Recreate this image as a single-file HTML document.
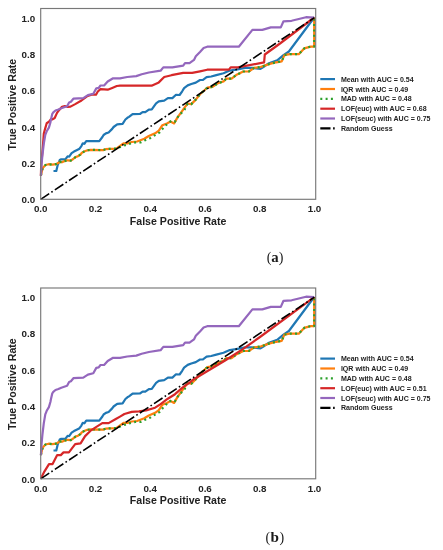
<!DOCTYPE html>
<html><head><meta charset="utf-8"><title>ROC curves</title>
<style>
html,body{margin:0;padding:0;background:#fff;}
svg{display:block;}
</style></head>
<body>
<svg width="443" height="550" viewBox="0 0 443 550">
<rect width="443" height="550" fill="#fff"/>
<g fill="none" stroke-width="2.2" stroke-linejoin="round" stroke-linecap="butt">
<polyline points="53.5,171.0 56.3,171.0 57.7,165.0 59.7,160.1 61.3,159.3 65.3,159.4 67.6,156.3 69.2,156.7 71.6,153.2 74.0,151.6 77.1,150.0 79.5,148.7 81.4,146.1 82.8,143.3 84.4,143.8 86.2,141.2 99.3,141.2 102.4,137.0 103.6,135.0 105.9,133.4 108.6,132.5 112.2,128.9 113.6,127.0 117.2,124.3 122.6,123.9 125.4,119.5 127.4,117.8 129.0,116.9 132.6,114.1 139.9,114.0 142.6,112.2 145.3,112.2 148.9,109.7 151.8,109.3 156.1,103.3 158.8,101.4 164.2,100.6 167.9,98.2 172.4,98.1 176.0,94.8 179.6,95.0 182.2,91.3 184.1,88.1 187.7,85.4 191.3,84.0 195.8,82.6 200.0,80.0 203.0,79.8 206.6,77.2 211.2,76.5 216.3,75.1 223.5,73.3 229.8,70.6 236.1,69.7 245.1,67.9 252.4,67.9 260.5,68.8 263.4,67.0 269.0,63.2 277.2,60.3 283.5,55.1 288.9,51.5 314.2,17.5" stroke="#1f77b4"/>
<polyline points="40.9,175.4 42.2,169.8 43.2,167.4 45.5,165.0 48.7,164.2 52.6,164.7 55.8,164.2 58.2,163.1 59.7,161.9 62.1,162.2 64.5,161.1 67.6,160.3 70.8,160.6 73.2,159.0 75.5,157.1 77.9,156.3 80.3,154.7 81.9,152.7 84.2,151.6 87.4,150.3 90.6,149.9 103.2,150.1 105.6,149.2 110.0,148.8 116.3,148.6 123.5,143.3 128.1,143.3 131.7,142.0 137.1,141.5 144.3,138.8 148.8,136.0 155.1,133.3 158.8,130.6 162.4,125.2 166.9,123.4 170.5,121.6 174.1,123.4 177.7,117.1 180.4,113.5 184.9,107.2 187.7,103.5 191.3,104.1 195.8,99.6 200.0,94.2 207.2,87.7 212.6,86.8 218.1,83.2 223.5,81.4 226.2,78.7 231.6,78.7 236.1,75.1 243.3,71.5 248.8,71.5 254.2,67.9 260.5,67.0 269.0,64.1 276.3,62.3 281.7,61.4 284.4,55.1 289.8,54.2 298.8,54.2 304.2,48.4 310.6,46.6 314.2,46.6 314.2,17.5" stroke="#ff7f0e"/>
<polyline points="40.9,175.4 42.2,169.8 43.2,167.4 45.5,165.0 48.7,164.2 52.6,164.7 55.8,164.2 58.2,163.1 59.7,161.9 62.1,162.2 64.5,161.1 67.6,160.3 70.8,160.6 73.2,159.0 75.5,157.1 77.9,156.3 80.3,154.7 81.9,152.7 84.2,151.6 87.4,150.3 90.6,149.9 103.2,150.1 105.6,149.2 110.0,148.8 116.3,148.6 118.1,147.8 125.3,145.1 129.9,143.6 135.3,142.4 140.7,142.4 145.2,140.2 150.6,137.9 155.1,135.1 159.7,132.4 163.3,127.9 167.8,123.4 171.4,120.7 175.0,121.6 179.5,114.4 184.0,110.8 185.8,107.2 187.7,103.5 191.3,104.1 195.8,99.6 200.0,94.2 207.2,87.7 212.6,86.8 218.1,83.2 223.5,81.4 226.2,78.7 231.6,78.7 236.1,75.1 243.3,71.5 248.8,71.5 254.2,67.9 260.5,67.0 269.0,64.1 276.3,62.3 281.7,61.4 284.4,55.1 289.8,54.2 298.8,54.2 304.2,48.4 310.6,46.6 314.2,46.6 314.2,17.5" stroke="#2ca02c" stroke-dasharray="2 3.3"/>
<polyline points="40.9,175.8 41.2,164.0 42.1,155.3 43.1,143.6 43.8,133.5 45.0,129.1 46.7,123.2 48.9,121.8 51.1,118.9 52.5,119.4 54.7,118.0 56.9,113.1 58.4,110.9 62.0,106.8 64.9,106.0 67.8,107.0 70.5,106.6 75.2,104.1 81.5,100.5 87.0,96.3 91.5,94.7 96.0,94.7 97.8,91.5 100.5,89.1 107.7,89.7 112.2,87.9 116.8,86.0 120.0,85.7 151.6,85.7 158.8,82.4 164.2,77.0 171.5,75.2 183.2,72.9 192.2,72.9 200.0,71.3 207.2,69.7 228.9,69.7 230.7,67.3 237.9,67.3 264.1,62.4 264.8,54.5 280.0,43.5 314.2,17.5" stroke="#d62728"/>
<polyline points="40.9,175.8 41.6,164.0 42.4,155.3 43.8,143.6 45.3,134.9 46.7,131.3 48.9,127.6 50.4,122.5 51.1,118.9 52.3,113.8 53.3,112.4 55.5,110.5 58.4,109.5 61.3,108.2 64.9,107.0 67.1,106.3 69.1,102.5 70.9,101.8 73.4,98.7 83.3,98.1 87.9,95.1 93.3,93.8 96.3,88.4 98.7,87.9 100.5,85.5 104.1,85.5 107.7,81.5 113.1,78.3 120.0,78.3 127.2,77.0 136.3,76.1 141.7,74.3 148.9,72.5 160.6,70.7 163.3,67.4 172.4,67.4 183.2,65.6 185.0,63.1 189.5,63.1 194.0,59.9 195.8,56.3 200.0,52.0 203.6,48.0 207.2,46.7 238.8,46.7 252.4,29.9 262.3,29.9 270.8,27.4 280.8,27.4 283.5,21.3 291.6,20.8 298.8,19.0 306.0,17.2 314.2,17.5" stroke="#9467bd"/>
<polyline points="40.7,199.3 314.4,17.7" stroke="#000" stroke-width="1.6" stroke-dasharray="10.2 2.6 1.6 2.6"/>
</g>
<rect x="40.7" y="8.5" width="275.0" height="190.8" fill="none" stroke="#787878" stroke-width="1.15"/>
<g font-family="Liberation Sans, Arial, sans-serif" font-weight="bold" font-size="9.8" fill="#222">
<text x="40.7" y="212.0" text-anchor="middle">0.0</text>
<text x="35.1" y="203.1" text-anchor="end">0.0</text>
<text x="95.5" y="212.0" text-anchor="middle">0.2</text>
<text x="35.1" y="166.8" text-anchor="end">0.2</text>
<text x="150.2" y="212.0" text-anchor="middle">0.4</text>
<text x="35.1" y="130.5" text-anchor="end">0.4</text>
<text x="205.0" y="212.0" text-anchor="middle">0.6</text>
<text x="35.1" y="94.2" text-anchor="end">0.6</text>
<text x="259.7" y="212.0" text-anchor="middle">0.8</text>
<text x="35.1" y="57.9" text-anchor="end">0.8</text>
<text x="314.5" y="212.0" text-anchor="middle">1.0</text>
<text x="35.1" y="21.6" text-anchor="end">1.0</text>
<text x="178.1" y="224.7" text-anchor="middle" font-size="10.6">False Positive Rate</text>
<text transform="translate(15.9,104.7) rotate(-90)" text-anchor="middle" font-size="10.6">True Positive Rate</text>
</g>
<g font-family="Liberation Sans, Arial, sans-serif" font-weight="bold" font-size="7.05" fill="#222">
<line x1="320.3" x2="335" y1="79.1" y2="79.1" stroke="#1f77b4" stroke-width="2.2"/>
<text x="340.9" y="81.6">Mean with AUC = 0.54</text>
<line x1="320.3" x2="335" y1="89.0" y2="89.0" stroke="#ff7f0e" stroke-width="2.2"/>
<text x="340.9" y="91.5">IQR with AUC = 0.49</text>
<line x1="320.3" x2="335" y1="98.8" y2="98.8" stroke="#2ca02c" stroke-width="2.2" stroke-dasharray="2 3.3"/>
<text x="340.9" y="101.3">MAD with AUC = 0.48</text>
<line x1="320.3" x2="335" y1="108.7" y2="108.7" stroke="#d62728" stroke-width="2.2"/>
<text x="340.9" y="111.2">LOF(euc) with AUC = 0.68</text>
<line x1="320.3" x2="335" y1="118.5" y2="118.5" stroke="#9467bd" stroke-width="2.2"/>
<text x="340.9" y="121.0">LOF(seuc) with AUC = 0.75</text>
<line x1="320.3" x2="335" y1="128.4" y2="128.4" stroke="#000" stroke-width="2.2" stroke-dasharray="10.2 2.6 1.6 2.6"/>
<text x="340.9" y="130.9">Random Guess</text>
</g>
<g fill="none" stroke-width="2.2" stroke-linejoin="round" stroke-linecap="butt">
<polyline points="53.5,450.5 56.3,450.5 57.7,444.5 59.7,439.6 61.3,438.8 65.3,438.9 67.6,435.8 69.2,436.2 71.6,432.7 74.0,431.1 77.1,429.5 79.5,428.2 81.4,425.6 82.8,422.8 84.4,423.3 86.2,420.7 99.3,420.7 102.4,416.5 103.6,414.5 105.9,412.9 108.6,412.0 112.2,408.4 113.6,406.5 117.2,403.8 122.6,403.4 125.4,399.0 127.4,397.3 129.0,396.4 132.6,393.6 139.9,393.5 142.6,391.7 145.3,391.7 148.9,389.2 151.8,388.8 156.1,382.8 158.8,380.9 164.2,380.1 167.9,377.7 172.4,377.6 176.0,374.3 179.6,374.5 182.2,370.8 184.1,367.6 187.7,364.9 191.3,363.5 195.8,362.1 200.0,359.5 203.0,359.3 206.6,356.7 211.2,356.0 216.3,354.6 223.5,352.8 229.8,350.1 236.1,349.2 245.1,347.4 252.4,347.4 260.5,348.3 263.4,346.5 269.0,342.7 277.2,339.8 283.5,334.6 288.9,331.0 314.2,297.0" stroke="#1f77b4"/>
<polyline points="40.9,454.9 42.2,449.3 43.2,446.9 45.5,444.5 48.7,443.7 52.6,444.2 55.8,443.7 58.2,442.6 59.7,441.4 62.1,441.7 64.5,440.6 67.6,439.8 70.8,440.1 73.2,438.5 75.5,436.6 77.9,435.8 80.3,434.2 81.9,432.2 84.2,431.1 87.4,429.8 90.6,429.4 103.2,429.6 105.6,428.7 110.0,428.3 116.3,428.1 123.5,422.8 128.1,422.8 131.7,421.5 137.1,421.0 144.3,418.3 148.8,415.5 155.1,412.8 158.8,410.1 162.4,404.7 166.9,402.9 170.5,401.1 174.1,402.9 177.7,396.6 180.4,393.0 184.9,386.7 187.7,383.0 191.3,383.6 195.8,379.1 200.0,373.7 207.2,367.2 212.6,366.3 218.1,362.7 223.5,360.9 226.2,358.2 231.6,358.2 236.1,354.6 243.3,351.0 248.8,351.0 254.2,347.4 260.5,346.5 269.0,343.6 276.3,341.8 281.7,340.9 284.4,334.6 289.8,333.7 298.8,333.7 304.2,327.9 310.6,326.1 314.2,326.1 314.2,297.0" stroke="#ff7f0e"/>
<polyline points="40.9,454.9 42.2,449.3 43.2,446.9 45.5,444.5 48.7,443.7 52.6,444.2 55.8,443.7 58.2,442.6 59.7,441.4 62.1,441.7 64.5,440.6 67.6,439.8 70.8,440.1 73.2,438.5 75.5,436.6 77.9,435.8 80.3,434.2 81.9,432.2 84.2,431.1 87.4,429.8 90.6,429.4 103.2,429.6 105.6,428.7 110.0,428.3 116.3,428.1 118.1,427.3 125.3,424.6 129.9,423.1 135.3,421.9 140.7,421.9 145.2,419.7 150.6,417.4 155.1,414.6 159.7,411.9 163.3,407.4 167.8,402.9 171.4,400.2 175.0,401.1 179.5,393.9 184.0,390.3 185.8,386.7 187.7,383.0 191.3,383.6 195.8,379.1 200.0,373.7 207.2,367.2 212.6,366.3 218.1,362.7 223.5,360.9 226.2,358.2 231.6,358.2 236.1,354.6 243.3,351.0 248.8,351.0 254.2,347.4 260.5,346.5 269.0,343.6 276.3,341.8 281.7,340.9 284.4,334.6 289.8,333.7 298.8,333.7 304.2,327.9 310.6,326.1 314.2,326.1 314.2,297.0" stroke="#2ca02c" stroke-dasharray="2 3.3"/>
<polyline points="40.9,478.6 44.5,471.3 49.0,464.1 52.6,464.1 57.2,455.1 60.8,455.1 63.5,452.4 68.9,452.4 75.2,444.2 80.6,443.3 85.1,436.1 90.6,430.7 96.0,427.1 102.3,423.1 108.6,423.1 115.8,419.0 120.0,416.6 124.4,414.0 131.7,411.9 138.9,411.3 146.1,410.4 155.1,407.7 160.6,404.1 167.8,398.7 175.0,394.2 182.2,387.9 185.8,385.1 190.0,382.4 192.6,380.0 207.1,371.3 225.1,360.5 243.2,348.8 260.0,337.0 314.2,297.2" stroke="#d62728"/>
<polyline points="40.9,455.3 41.6,443.5 42.4,434.8 43.8,423.1 45.3,414.4 46.7,410.8 48.9,407.1 50.4,402.0 51.1,398.4 52.3,393.3 53.3,391.9 55.5,390.0 58.4,389.0 61.3,387.7 64.9,386.5 67.1,385.8 69.1,382.0 70.9,381.3 73.4,378.2 83.3,377.6 87.9,374.6 93.3,373.3 96.3,367.9 98.7,367.4 100.5,365.0 104.1,365.0 107.7,361.0 113.1,357.8 120.0,357.8 127.2,356.5 136.3,355.6 141.7,353.8 148.9,352.0 160.6,350.2 163.3,346.9 172.4,346.9 183.2,345.1 185.0,342.6 189.5,342.6 194.0,339.4 195.8,335.8 200.0,331.5 203.6,327.5 207.2,326.2 238.8,326.2 252.4,309.4 262.3,309.4 270.8,306.9 280.8,306.9 283.5,300.8 291.6,300.3 298.8,298.5 306.0,296.7 314.2,297.0" stroke="#9467bd"/>
<polyline points="40.7,478.8 314.4,297.2" stroke="#000" stroke-width="1.6" stroke-dasharray="10.2 2.6 1.6 2.6"/>
</g>
<rect x="40.7" y="288.0" width="275.0" height="190.8" fill="none" stroke="#787878" stroke-width="1.15"/>
<g font-family="Liberation Sans, Arial, sans-serif" font-weight="bold" font-size="9.8" fill="#222">
<text x="40.7" y="491.5" text-anchor="middle">0.0</text>
<text x="35.1" y="482.6" text-anchor="end">0.0</text>
<text x="95.5" y="491.5" text-anchor="middle">0.2</text>
<text x="35.1" y="446.3" text-anchor="end">0.2</text>
<text x="150.2" y="491.5" text-anchor="middle">0.4</text>
<text x="35.1" y="410.0" text-anchor="end">0.4</text>
<text x="205.0" y="491.5" text-anchor="middle">0.6</text>
<text x="35.1" y="373.7" text-anchor="end">0.6</text>
<text x="259.7" y="491.5" text-anchor="middle">0.8</text>
<text x="35.1" y="337.4" text-anchor="end">0.8</text>
<text x="314.5" y="491.5" text-anchor="middle">1.0</text>
<text x="35.1" y="301.1" text-anchor="end">1.0</text>
<text x="178.1" y="504.2" text-anchor="middle" font-size="10.6">False Positive Rate</text>
<text transform="translate(15.9,384.2) rotate(-90)" text-anchor="middle" font-size="10.6">True Positive Rate</text>
</g>
<g font-family="Liberation Sans, Arial, sans-serif" font-weight="bold" font-size="7.05" fill="#222">
<line x1="320.3" x2="335" y1="358.6" y2="358.6" stroke="#1f77b4" stroke-width="2.2"/>
<text x="340.9" y="361.1">Mean with AUC = 0.54</text>
<line x1="320.3" x2="335" y1="368.5" y2="368.5" stroke="#ff7f0e" stroke-width="2.2"/>
<text x="340.9" y="371.0">IQR with AUC = 0.49</text>
<line x1="320.3" x2="335" y1="378.3" y2="378.3" stroke="#2ca02c" stroke-width="2.2" stroke-dasharray="2 3.3"/>
<text x="340.9" y="380.8">MAD with AUC = 0.48</text>
<line x1="320.3" x2="335" y1="388.2" y2="388.2" stroke="#d62728" stroke-width="2.2"/>
<text x="340.9" y="390.7">LOF(euc) with AUC = 0.51</text>
<line x1="320.3" x2="335" y1="398.0" y2="398.0" stroke="#9467bd" stroke-width="2.2"/>
<text x="340.9" y="400.5">LOF(seuc) with AUC = 0.75</text>
<line x1="320.3" x2="335" y1="407.9" y2="407.9" stroke="#000" stroke-width="2.2" stroke-dasharray="10.2 2.6 1.6 2.6"/>
<text x="340.9" y="410.4">Random Guess</text>
</g>
<g font-family="Liberation Serif, Times New Roman, serif" font-size="14" fill="#1a1a1a" text-anchor="middle">
<text x="275.0" y="262">(<tspan font-weight="bold" font-size="14.8">a</tspan>)</text>
<text x="275.0" y="541.5" letter-spacing="0.4">(<tspan font-weight="bold" font-size="15.2">b</tspan>)</text>
</g>
</svg>
</body></html>
